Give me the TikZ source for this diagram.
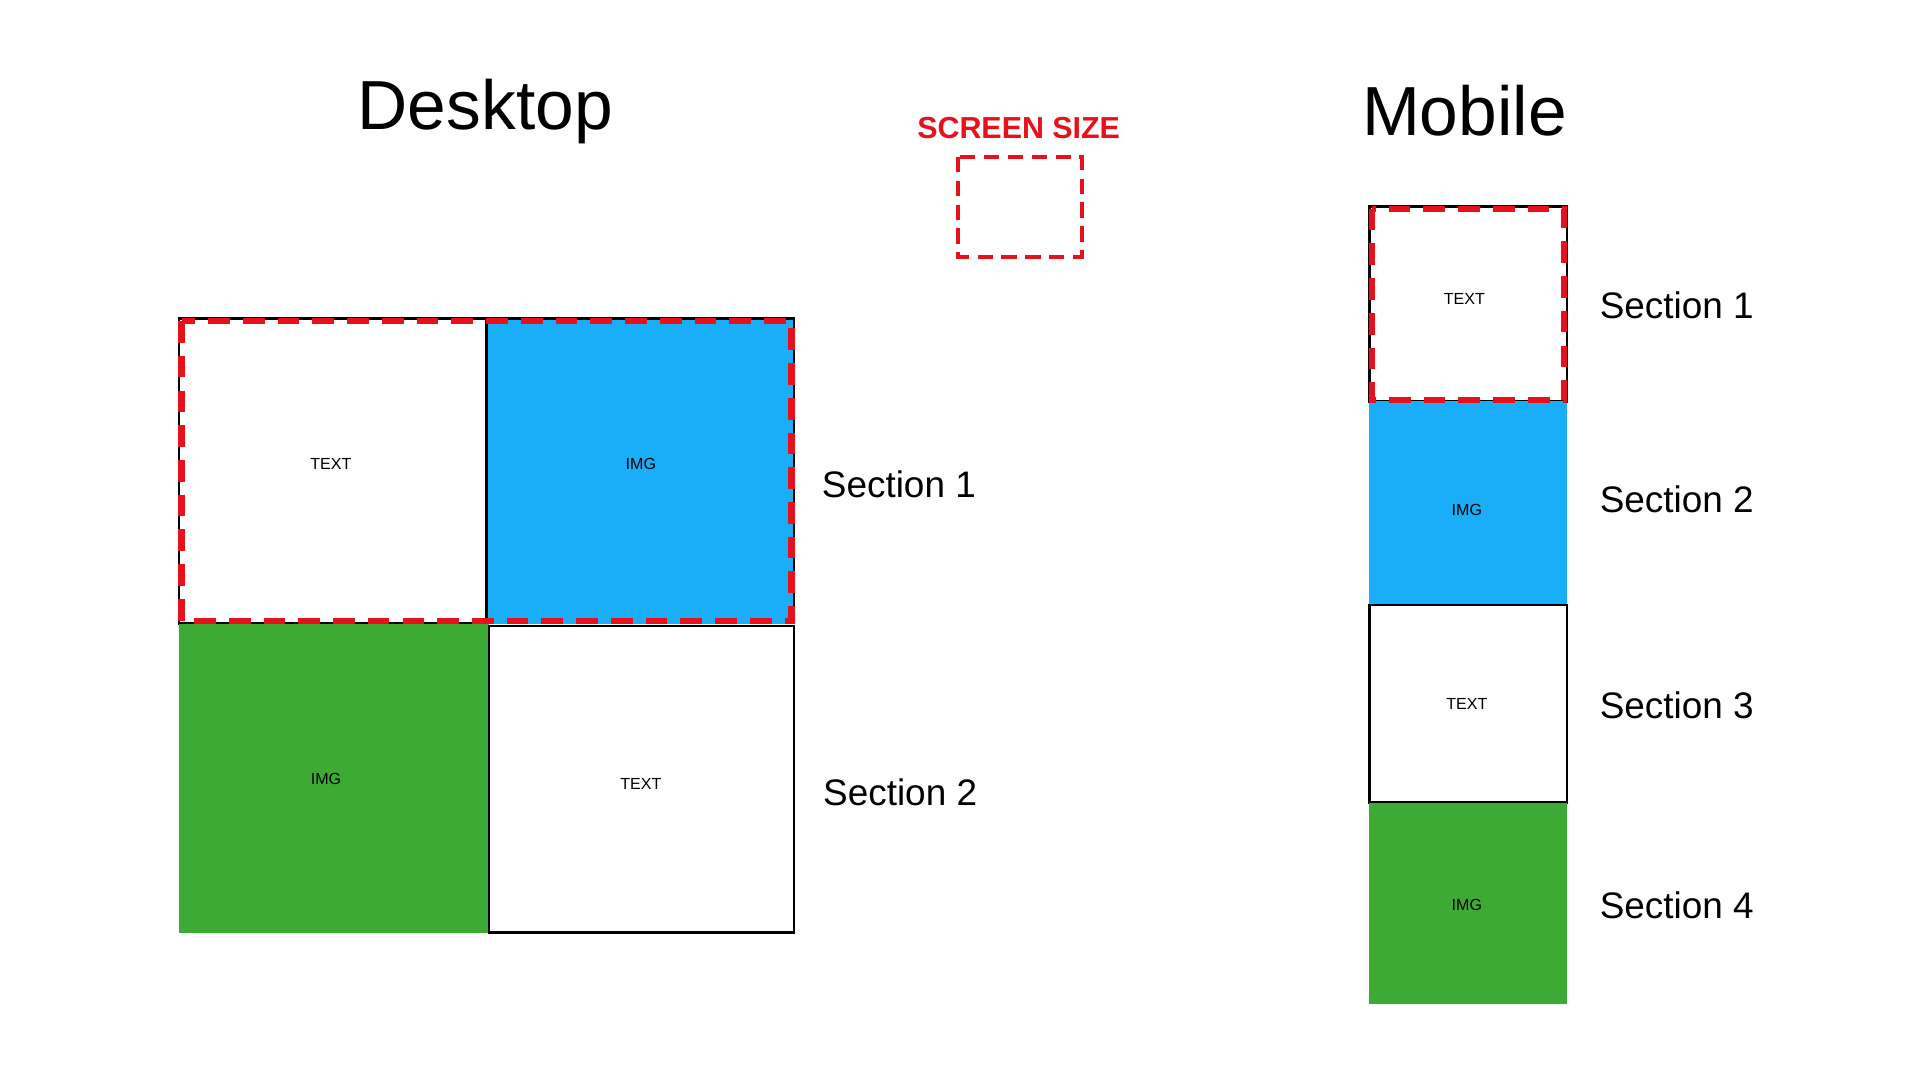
\documentclass[tikz,border=0pt]{standalone}
\usepackage{fontspec}
\setmainfont{Liberation Sans}
\definecolor{myblue}{HTML}{1AADF8}
\definecolor{mygreen}{HTML}{3DAA35}
\definecolor{myred}{HTML}{E8101A}
\begin{document}
\begin{tikzpicture}[x=0.01cm,y=-0.01cm,
  cell/.style={draw=black,line width=0.6pt},
  small/.style={font=\fontsize{3.7}{4}\selectfont},
  sec/.style={font=\fontsize{8.5}{10}\selectfont},
  ttl/.style={font=\fontsize{16}{18}\selectfont},
  scr/.style={draw=myred,line width=1.4pt,dash pattern=on 5pt off 3pt}]
\useasboundingbox (0,0) rectangle (1555,875);
\node[ttl] (dt) at (393,90) {Desktop};
\node[ttl] (mt) at (1186,90) {Mobile};
\node[text=myred,font=\bfseries\fontsize{7}{8}\selectfont] (sl) at (825,104) {SCREEN SIZE};
\draw[scr,line width=0.9pt,dash pattern=on 3.5pt off 2pt] (776,127) rectangle (876,208);
% desktop
\draw[cell,fill=white] (145,258) rectangle (394,505);
\fill[myblue] (394,258) rectangle (643,505);
\fill[mygreen] (145,505) rectangle (396,756);
\draw[cell,fill=white] (396,507) rectangle (643,755);
\draw[cell] (145,258) -- (643,258) -- (643,505);
\draw[cell] (394,258) -- (394,505);
\node[small] (d1) at (268,376) {TEXT};
\node[small] (d2) at (519,376) {IMG};
\node[small] (d3) at (264,631) {IMG};
\node[small] (d4) at (519,635) {TEXT};
\draw[scr] (147,260) rectangle (641,503);
\node[sec] (ds1) at (728,392) {Section 1};
\node[sec] (ds2) at (729,642) {Section 2};
% mobile
\draw[cell,fill=white] (1109,167) rectangle (1269,325);
\fill[myblue] (1109,325) rectangle (1269,490);
\draw[cell,fill=white] (1109,490) rectangle (1269,650);
\fill[mygreen] (1109,650) rectangle (1269,813);
\draw[scr] (1111,169) rectangle (1267,324);
\node[small] (m1) at (1186,242) {TEXT};
\node[small] (m2) at (1188,413) {IMG};
\node[small] (m3) at (1188,570) {TEXT};
\node[small] (m4) at (1188,733) {IMG};
\node[sec] (ms1) at (1358,247) {Section 1};
\node[sec] (ms2) at (1358,404) {Section 2};
\node[sec] (ms3) at (1358,571) {Section 3};
\node[sec] (ms4) at (1358,733) {Section 4};
\end{tikzpicture}
\end{document}
